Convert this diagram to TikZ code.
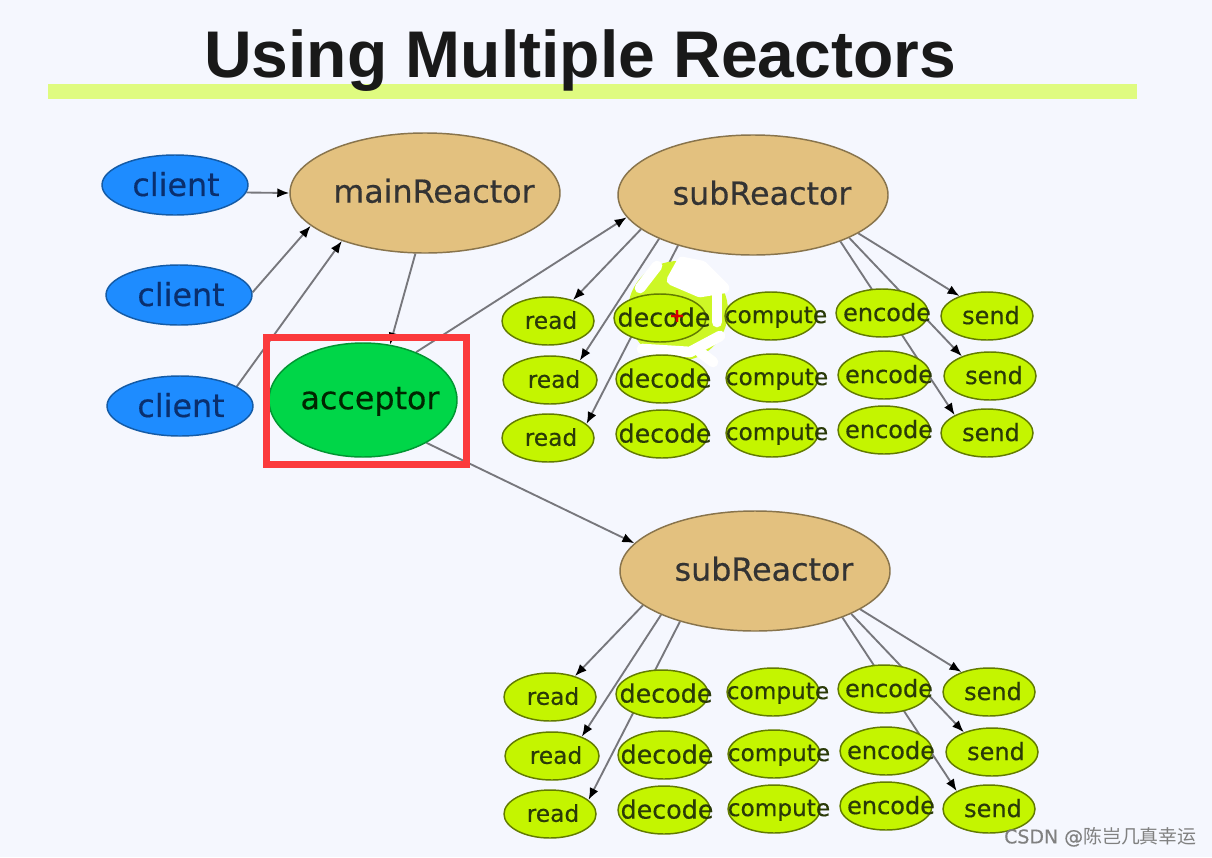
\documentclass[tikz,border=0pt]{standalone}
\usepackage{fontspec}
\setmainfont[FakeBold=0.4]{DejaVu Sans}
\newfontfamily\titlefont{Liberation Sans}
\newfontfamily\cjkfont{Noto Sans CJK SC}
\usetikzlibrary{shapes.geometric,arrows.meta}
\pgfdeclarelayer{bgrect}
\pgfdeclarelayer{edges}
\pgfsetlayers{bgrect,edges,main}
\definecolor{pagebg}{HTML}{F5F7FE}
\definecolor{barlime}{HTML}{DFFB80}
\definecolor{bluefill}{HTML}{1E8CFF}
\definecolor{bluetext}{HTML}{0A2F6E}
\definecolor{tanfill}{HTML}{E3C17F}
\definecolor{greenfill}{HTML}{00D648}
\definecolor{limefill}{HTML}{C4F500}
\definecolor{limetext}{HTML}{2A3A08}
\definecolor{redbox}{HTML}{FB3A3C}
\definecolor{edgegray}{HTML}{77777C}
\tikzset{
  x=0.75pt,y=-0.75pt,
  oval/.style={ellipse,draw,inner sep=0pt,line width=1.1pt},
  clientoval/.style={oval,fill=bluefill,draw=bluefill!65!black},
  tanoval/.style={oval,fill=tanfill,draw=tanfill!60!black},
  greenoval/.style={oval,fill=greenfill,draw=greenfill!70!black},
  limeoval/.style={oval,fill=limefill,draw=limefill!50!black},
  lab/.style={inner sep=0pt,anchor=center},
  arrowedge/.style={draw=edgegray,line width=1.4pt,-{Latex[length=9pt,width=7pt,black]}},
  scribble/.style={draw=white,line width=8pt,line cap=round,line join=round},
}
% name, x, y, rx, ry, style, text, text x, text colour
\newcommand{\ovalitem}[9]{%
  \node[#6,minimum width=#4*1.5pt,minimum height=#5*1.5pt] (#1) at (#2,#3) {};
  \node[lab,text=#9,yshift=-1pt] (#1-t) at (#8,#3) {\strut #7};
}
\newcommand{\smallsize}{\fontsize{18}{20}\selectfont}
\newcommand{\decsize}{\fontsize{19}{20}\selectfont}
\newcommand{\compsize}{\fontsize{17.4}{20}\selectfont}
\newcommand{\bigsize}{\fontsize{23.8}{26}\selectfont}
\newcommand{\tanlabel}[1]{\raisebox{2pt}{\bigsize #1}}
\newcommand{\reactorblock}[3]{%
\begin{scope}[shift={(#2,#3)}]
  \ovalitem{#1s}{753}{195}{135}{60}{tanoval}{\tanlabel{subReactor}}{762}{black!80}
  \ovalitem{#1r1}{548}{321}{46}{24}{limeoval}{\fontsize{17.5}{20}\selectfont read}{551}{limetext}
  \ovalitem{#1r2}{550}{380}{47}{24}{limeoval}{\fontsize{17.5}{20}\selectfont read}{554}{limetext}
  \ovalitem{#1r3}{548}{438}{46}{24}{limeoval}{\fontsize{17.5}{20}\selectfont read}{551}{limetext}
  \ovalitem{#1d1}{660}{318}{46}{24}{limeoval}{\decsize decode}{664}{limetext}
  \ovalitem{#1d2}{662}{379}{46}{24}{limeoval}{\decsize decode}{665}{limetext}
  \ovalitem{#1d3}{662}{434}{46}{24}{limeoval}{\decsize decode}{665}{limetext}
  \ovalitem{#1c1}{771}{316}{46}{24}{limeoval}{\compsize compute}{776}{limetext}
  \ovalitem{#1c2}{772}{378}{46}{24}{limeoval}{\compsize compute}{777}{limetext}
  \ovalitem{#1c3}{772}{433}{46}{24}{limeoval}{\compsize compute}{777}{limetext}
  \ovalitem{#1e1}{882}{313}{46}{24}{limeoval}{\smallsize encode}{887}{limetext}
  \ovalitem{#1e2}{884}{375}{46}{24}{limeoval}{\smallsize encode}{889}{limetext}
  \ovalitem{#1e3}{884}{430}{46}{24}{limeoval}{\smallsize encode}{889}{limetext}
  \ovalitem{#1n1}{987}{316}{46}{24}{limeoval}{\smallsize send}{991}{limetext}
  \ovalitem{#1n2}{990}{376}{46}{24}{limeoval}{\smallsize send}{994}{limetext}
  \ovalitem{#1n3}{987}{433}{46}{24}{limeoval}{\smallsize send}{991}{limetext}
\end{scope}
\begin{pgfonlayer}{edges}
  \draw[arrowedge] (#1s.197) -- (#1r1.40);
  \draw[arrowedge] (#1s.205) -- (#1r2.33);
  \draw[arrowedge] (#1s.214) -- (#1r3.20);
  \draw[arrowedge] (#1s.-20) -- (#1n1.144);
  \draw[arrowedge] (#1s.-24) -- (#1n2.145);
  \draw[arrowedge] (#1s.-28) -- (#1n3.151);
\end{pgfonlayer}
}
\begin{document}
\begin{tikzpicture}
\begin{pgfonlayer}{bgrect}
  \fill[pagebg] (0,0) rectangle (1212,857);
  \fill[barlime] (48,84) rectangle (1137,99);
\end{pgfonlayer}
\node[lab,text=black!90] (title) at (580,61) {\titlefont\bfseries\fontsize{49.5}{54}\selectfont Using Multiple Reactors};

% highlight behind the first decode
\fill[limefill!85!white] (678,311) ellipse [x radius=50,y radius=50];
\draw[scribble] (640,288) -- (657,266);
\fill[white,draw=white,line width=8pt,line join=round] (672,280) -- (682,262) -- (702,266) -- (724,288) -- (700,292) -- cycle;
\draw[scribble] (717,288) -- (717,322);
\draw[scribble] (642,349) -- (690,352) -- (720,336);
\draw[scribble] (700,352) -- (713,362);

\ovalitem{cl1}{175}{185}{73}{30}{clientoval}{\bigsize client}{176}{bluetext}
\ovalitem{cl2}{179}{295}{73}{30}{clientoval}{\bigsize client}{181}{bluetext}
\ovalitem{cl3}{180}{406}{73}{30}{clientoval}{\bigsize client}{181}{bluetext}
\ovalitem{main}{425}{193}{135}{60}{tanoval}{\tanlabel{mainReactor}}{434}{black!80}
\ovalitem{acc}{363}{400}{94}{57}{greenoval}{\bigsize acceptor}{370}{black!75!green!60!black}

\reactorblock{a}{0}{0}
\reactorblock{b}{2}{376}

\node[lab,text=red!85!black,font=\bfseries\fontsize{14}{14}\selectfont] (mark) at (677,316) {+};

\begin{pgfonlayer}{edges}
  \draw[arrowedge] (cl1.-6) -- (main.180);
  \draw[arrowedge] (cl2.2) -- (main.196);
  \draw[arrowedge] (cl3.19) -- (main.210);
  \draw[arrowedge] (main.261) -- (acc.64);
  \draw[arrowedge] (acc.42) -- (as.190);
  \draw[arrowedge] (acc.-34) -- (bs.167);
\end{pgfonlayer}

\node[draw=redbox,line width=5.2pt,minimum width=150pt,minimum height=95.25pt,inner sep=0pt] (focus) at (366.5,401) {};

\node[lab,text=black!50,anchor=east] (mark2) at (1197,837) {\fontsize{14.2}{14}\selectfont CSDN @\cjkfont 陈岂几真幸运};
\end{tikzpicture}
\end{document}
